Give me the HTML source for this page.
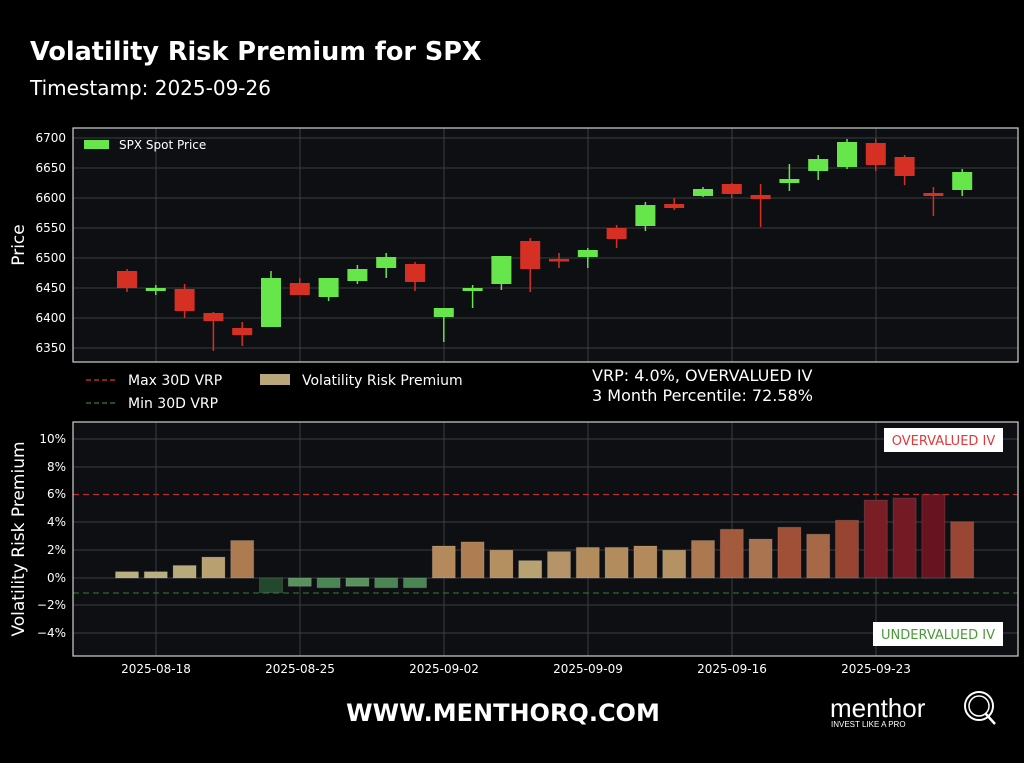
<!DOCTYPE html>
<html><head><meta charset="utf-8"><style>
html,body{margin:0;padding:0;background:#000;}
svg{display:block;font-family:"DejaVu Sans","Liberation Sans",sans-serif;}
</style></head><body>
<svg width="1024" height="763" viewBox="0 0 1024 763" xmlns="http://www.w3.org/2000/svg">
<rect width="1024" height="763" fill="#000"/>
<text x="30" y="60" fill="#fff" font-size="25.5" font-weight="bold">Volatility Risk Premium for SPX</text>
<text x="30" y="95" fill="#fff" font-size="20">Timestamp: 2025-09-26</text>

<rect x="73" y="128" width="945" height="234" fill="#0e0f13"/>
<g stroke="#3c3d42" stroke-width="1">
<line x1="73" x2="1018" y1="138" y2="138"/><line x1="73" x2="1018" y1="168" y2="168"/>
<line x1="73" x2="1018" y1="198" y2="198"/><line x1="73" x2="1018" y1="228" y2="228"/>
<line x1="73" x2="1018" y1="258" y2="258"/><line x1="73" x2="1018" y1="288" y2="288"/>
<line x1="73" x2="1018" y1="318" y2="318"/><line x1="73" x2="1018" y1="348" y2="348"/>
<line x1="156" x2="156" y1="128" y2="362"/><line x1="300" x2="300" y1="128" y2="362"/>
<line x1="444" x2="444" y1="128" y2="362"/><line x1="588" x2="588" y1="128" y2="362"/>
<line x1="732" x2="732" y1="128" y2="362"/><line x1="876" x2="876" y1="128" y2="362"/>
</g>
<g stroke-width="1.5">
<g stroke="#d63024">
<line x1="127" x2="127" y1="269" y2="292"/><line x1="184.6" x2="184.6" y1="284" y2="318"/>
<line x1="213.4" x2="213.4" y1="312" y2="351"/><line x1="242.2" x2="242.2" y1="322" y2="346"/>
<line x1="299.8" x2="299.8" y1="278" y2="295"/><line x1="415" x2="415" y1="262" y2="291"/>
<line x1="530.2" x2="530.2" y1="238" y2="292"/><line x1="559" x2="559" y1="253" y2="268"/>
<line x1="616.6" x2="616.6" y1="225" y2="248"/><line x1="674.2" x2="674.2" y1="198" y2="210"/>
<line x1="731.8" x2="731.8" y1="183" y2="198"/><line x1="760.6" x2="760.6" y1="184" y2="227"/>
<line x1="875.8" x2="875.8" y1="139" y2="171"/><line x1="904.6" x2="904.6" y1="155" y2="185"/>
<line x1="933.4" x2="933.4" y1="187" y2="216"/>
</g>
<g stroke="#66e64a">
<line x1="155.8" x2="155.8" y1="285" y2="295"/><line x1="271" x2="271" y1="271" y2="327"/>
<line x1="328.6" x2="328.6" y1="278" y2="301"/><line x1="357.4" x2="357.4" y1="265" y2="284"/>
<line x1="386.2" x2="386.2" y1="253" y2="278"/><line x1="443.8" x2="443.8" y1="308" y2="342"/>
<line x1="472.6" x2="472.6" y1="285" y2="308"/><line x1="501.4" x2="501.4" y1="256" y2="290"/>
<line x1="587.8" x2="587.8" y1="248" y2="268"/><line x1="645.4" x2="645.4" y1="202" y2="231"/>
<line x1="703" x2="703" y1="187" y2="197"/><line x1="789.4" x2="789.4" y1="164" y2="191"/>
<line x1="818.2" x2="818.2" y1="155" y2="180"/><line x1="847" x2="847" y1="139" y2="169"/>
<line x1="962.2" x2="962.2" y1="169" y2="196"/>
</g>
</g>
<g fill="#d63024">
<rect x="117" y="271" width="20" height="17"/><rect x="174.6" y="289" width="20" height="22"/>
<rect x="203.4" y="313" width="20" height="8"/><rect x="232.2" y="328" width="20" height="7"/>
<rect x="289.8" y="283" width="20" height="12"/><rect x="405" y="264" width="20" height="18"/>
<rect x="520.2" y="241" width="20" height="28"/><rect x="549" y="259" width="20" height="2.5"/>
<rect x="606.6" y="228" width="20" height="11"/><rect x="664.2" y="204" width="20" height="4"/>
<rect x="721.8" y="184" width="20" height="10"/><rect x="750.6" y="195" width="20" height="4"/>
<rect x="865.8" y="143" width="20" height="22"/><rect x="894.6" y="157" width="20" height="19"/>
<rect x="923.4" y="193" width="20" height="3"/>
</g>
<g fill="#66e64a">
<rect x="145.8" y="288" width="20" height="3"/><rect x="261" y="278" width="20" height="49"/>
<rect x="318.6" y="278" width="20" height="19"/><rect x="347.4" y="269" width="20" height="12"/>
<rect x="376.2" y="257" width="20" height="11"/><rect x="433.8" y="308" width="20" height="9"/>
<rect x="462.6" y="288" width="20" height="3"/><rect x="491.4" y="256" width="20" height="28"/>
<rect x="577.8" y="250" width="20" height="7"/><rect x="635.4" y="205" width="20" height="21"/>
<rect x="693" y="189" width="20" height="7"/><rect x="779.4" y="179" width="20" height="4"/>
<rect x="808.2" y="159" width="20" height="12"/><rect x="837" y="142" width="20" height="25"/>
<rect x="952.2" y="172" width="20" height="18"/>
</g>
<rect x="73" y="128" width="945" height="234" fill="none" stroke="#d0d0d0" stroke-width="1.2"/>
<g fill="#fff" font-size="12" text-anchor="end">
<text x="66" y="142">6700</text><text x="66" y="172">6650</text><text x="66" y="202">6600</text>
<text x="66" y="232">6550</text><text x="66" y="262">6500</text><text x="66" y="292">6450</text>
<text x="66" y="322">6400</text><text x="66" y="352">6350</text>
</g>
<text transform="translate(24,245) rotate(-90)" fill="#fff" font-size="17" text-anchor="middle">Price</text>
<rect x="84" y="140" width="25" height="9" fill="#66e64a"/>
<text x="119" y="149" fill="#fff" font-size="12">SPX Spot Price</text>

<line x1="86" x2="118" y1="380" y2="380" stroke="#c0282a" stroke-width="1.5" stroke-dasharray="5,3"/>
<text x="128" y="385" fill="#fff" font-size="14">Max 30D VRP</text>
<line x1="86" x2="118" y1="403" y2="403" stroke="#2f6a2a" stroke-width="1.5" stroke-dasharray="5,3"/>
<text x="128" y="408" fill="#fff" font-size="14">Min 30D VRP</text>
<rect x="260" y="374" width="30" height="11" fill="#b9a67a"/>
<text x="302" y="385" fill="#fff" font-size="14">Volatility Risk Premium</text>
<text x="592" y="381" fill="#fff" font-size="16">VRP: 4.0%, OVERVALUED IV</text>
<text x="592" y="401" fill="#fff" font-size="16">3 Month Percentile: 72.58%</text>

<rect x="73" y="422" width="945" height="234" fill="#0e0f13"/>
<g stroke="#3c3d42" stroke-width="1">
<line x1="73" x2="1018" y1="439" y2="439"/><line x1="73" x2="1018" y1="467" y2="467"/>
<line x1="73" x2="1018" y1="522" y2="522"/><line x1="73" x2="1018" y1="550" y2="550"/>
<line x1="73" x2="1018" y1="578" y2="578"/><line x1="73" x2="1018" y1="605" y2="605"/>
<line x1="73" x2="1018" y1="633" y2="633"/>
<line x1="156" x2="156" y1="422" y2="656"/><line x1="300" x2="300" y1="422" y2="656"/>
<line x1="444" x2="444" y1="422" y2="656"/><line x1="588" x2="588" y1="422" y2="656"/>
<line x1="732" x2="732" y1="422" y2="656"/><line x1="876" x2="876" y1="422" y2="656"/>
</g>
<g stroke="rgba(255,255,255,0.12)" stroke-width="1">
<rect x="115.5" y="571.7" width="23" height="6.3" fill="#b9ae80"/>
<rect x="144.3" y="571.7" width="23" height="6.3" fill="#b9ae80"/>
<rect x="173.1" y="565.5" width="23" height="12.5" fill="#b8aa7a"/>
<rect x="201.9" y="557.1" width="23" height="20.9" fill="#b8a070"/>
<rect x="230.7" y="540.5" width="23" height="37.5" fill="#ae7a50"/>
<rect x="259.5" y="578" width="23" height="14.6" fill="#24482e"/>
<rect x="288.3" y="578" width="23" height="8.3" fill="#5a925f"/>
<rect x="317.1" y="578" width="23" height="9.7" fill="#4a8654"/>
<rect x="345.9" y="578" width="23" height="8.3" fill="#5a925f"/>
<rect x="374.7" y="578" width="23" height="9.7" fill="#4a8654"/>
<rect x="403.5" y="578" width="23" height="9.7" fill="#4a8654"/>
<rect x="432.3" y="546" width="23" height="32" fill="#b48a5c"/>
<rect x="461.1" y="541.9" width="23" height="36.1" fill="#ae7e52"/>
<rect x="489.9" y="550.2" width="23" height="27.8" fill="#b48f60"/>
<rect x="518.7" y="560.6" width="23" height="17.4" fill="#b8a272"/>
<rect x="547.5" y="551.6" width="23" height="26.4" fill="#b5946a"/>
<rect x="576.3" y="547.4" width="23" height="30.6" fill="#b38c5e"/>
<rect x="605.1" y="547.4" width="23" height="30.6" fill="#b38c5e"/>
<rect x="633.9" y="546" width="23" height="32" fill="#b28a5c"/>
<rect x="662.7" y="550.2" width="23" height="27.8" fill="#b49264"/>
<rect x="691.5" y="540.5" width="23" height="37.5" fill="#ac7850"/>
<rect x="720.3" y="529.3" width="23" height="48.7" fill="#a45a3c"/>
<rect x="749.1" y="539.1" width="23" height="38.9" fill="#aa7450"/>
<rect x="777.9" y="527.3" width="23" height="50.7" fill="#a05036"/>
<rect x="806.7" y="534.2" width="23" height="43.8" fill="#a66846"/>
<rect x="835.5" y="520.3" width="23" height="57.7" fill="#984432"/>
<rect x="864.3" y="500.2" width="23" height="77.8" fill="#7a1e26"/>
<rect x="893.1" y="498.1" width="23" height="79.9" fill="#741a24"/>
<rect x="921.9" y="494.6" width="23" height="83.4" fill="#681420"/>
<rect x="950.7" y="521.7" width="23" height="56.3" fill="#9a4634"/>
</g>
<line x1="73" x2="1018" y1="494.5" y2="494.5" stroke="#c0282a" stroke-width="1.3" stroke-dasharray="6,4"/>
<line x1="73" x2="1018" y1="593" y2="593" stroke="#2f6a2a" stroke-width="1.3" stroke-dasharray="6,4"/>
<rect x="73" y="422" width="945" height="234" fill="none" stroke="#d0d0d0" stroke-width="1.2"/>
<g fill="#fff" font-size="12" text-anchor="end">
<text x="66" y="443">10%</text><text x="66" y="471">8%</text><text x="66" y="498">6%</text>
<text x="66" y="526">4%</text><text x="66" y="554">2%</text><text x="66" y="582">0%</text>
<text x="66" y="609">−2%</text><text x="66" y="637">−4%</text>
</g>
<text transform="translate(24,539) rotate(-90)" fill="#fff" font-size="17" text-anchor="middle">Volatility Risk Premium</text>
<g fill="#fff" font-size="12" text-anchor="middle">
<text x="156" y="673">2025-08-18</text><text x="300" y="673">2025-08-25</text><text x="444" y="673">2025-09-02</text>
<text x="588" y="673">2025-09-09</text><text x="732" y="673">2025-09-16</text><text x="876" y="673">2025-09-23</text>
</g>
<rect x="884" y="428" width="119" height="24" fill="#fff"/>
<text x="943.5" y="445" fill="#e03a3a" font-size="13" text-anchor="middle">OVERVALUED IV</text>
<rect x="873" y="622" width="130" height="24" fill="#fff"/>
<text x="938" y="639" fill="#4a9a3a" font-size="13" text-anchor="middle">UNDERVALUED IV</text>

<text x="503" y="721" fill="#fff" font-size="24" font-weight="bold" text-anchor="middle">WWW.MENTHORQ.COM</text>
<text x="830" y="717" fill="#fff" font-size="26" font-weight="200" font-family="Liberation Sans, sans-serif">menthor</text>
<circle cx="979" cy="706" r="14" fill="none" stroke="#fff" stroke-width="2"/>
<circle cx="979" cy="706" r="10" fill="none" stroke="#fff" stroke-width="1.5"/>
<line x1="985" y1="713" x2="995" y2="724" stroke="#fff" stroke-width="2.5"/>
<text x="831" y="727" fill="#fff" font-size="8" font-family="Liberation Sans, sans-serif">INVEST LIKE A PRO</text>
</svg>
</body></html>
